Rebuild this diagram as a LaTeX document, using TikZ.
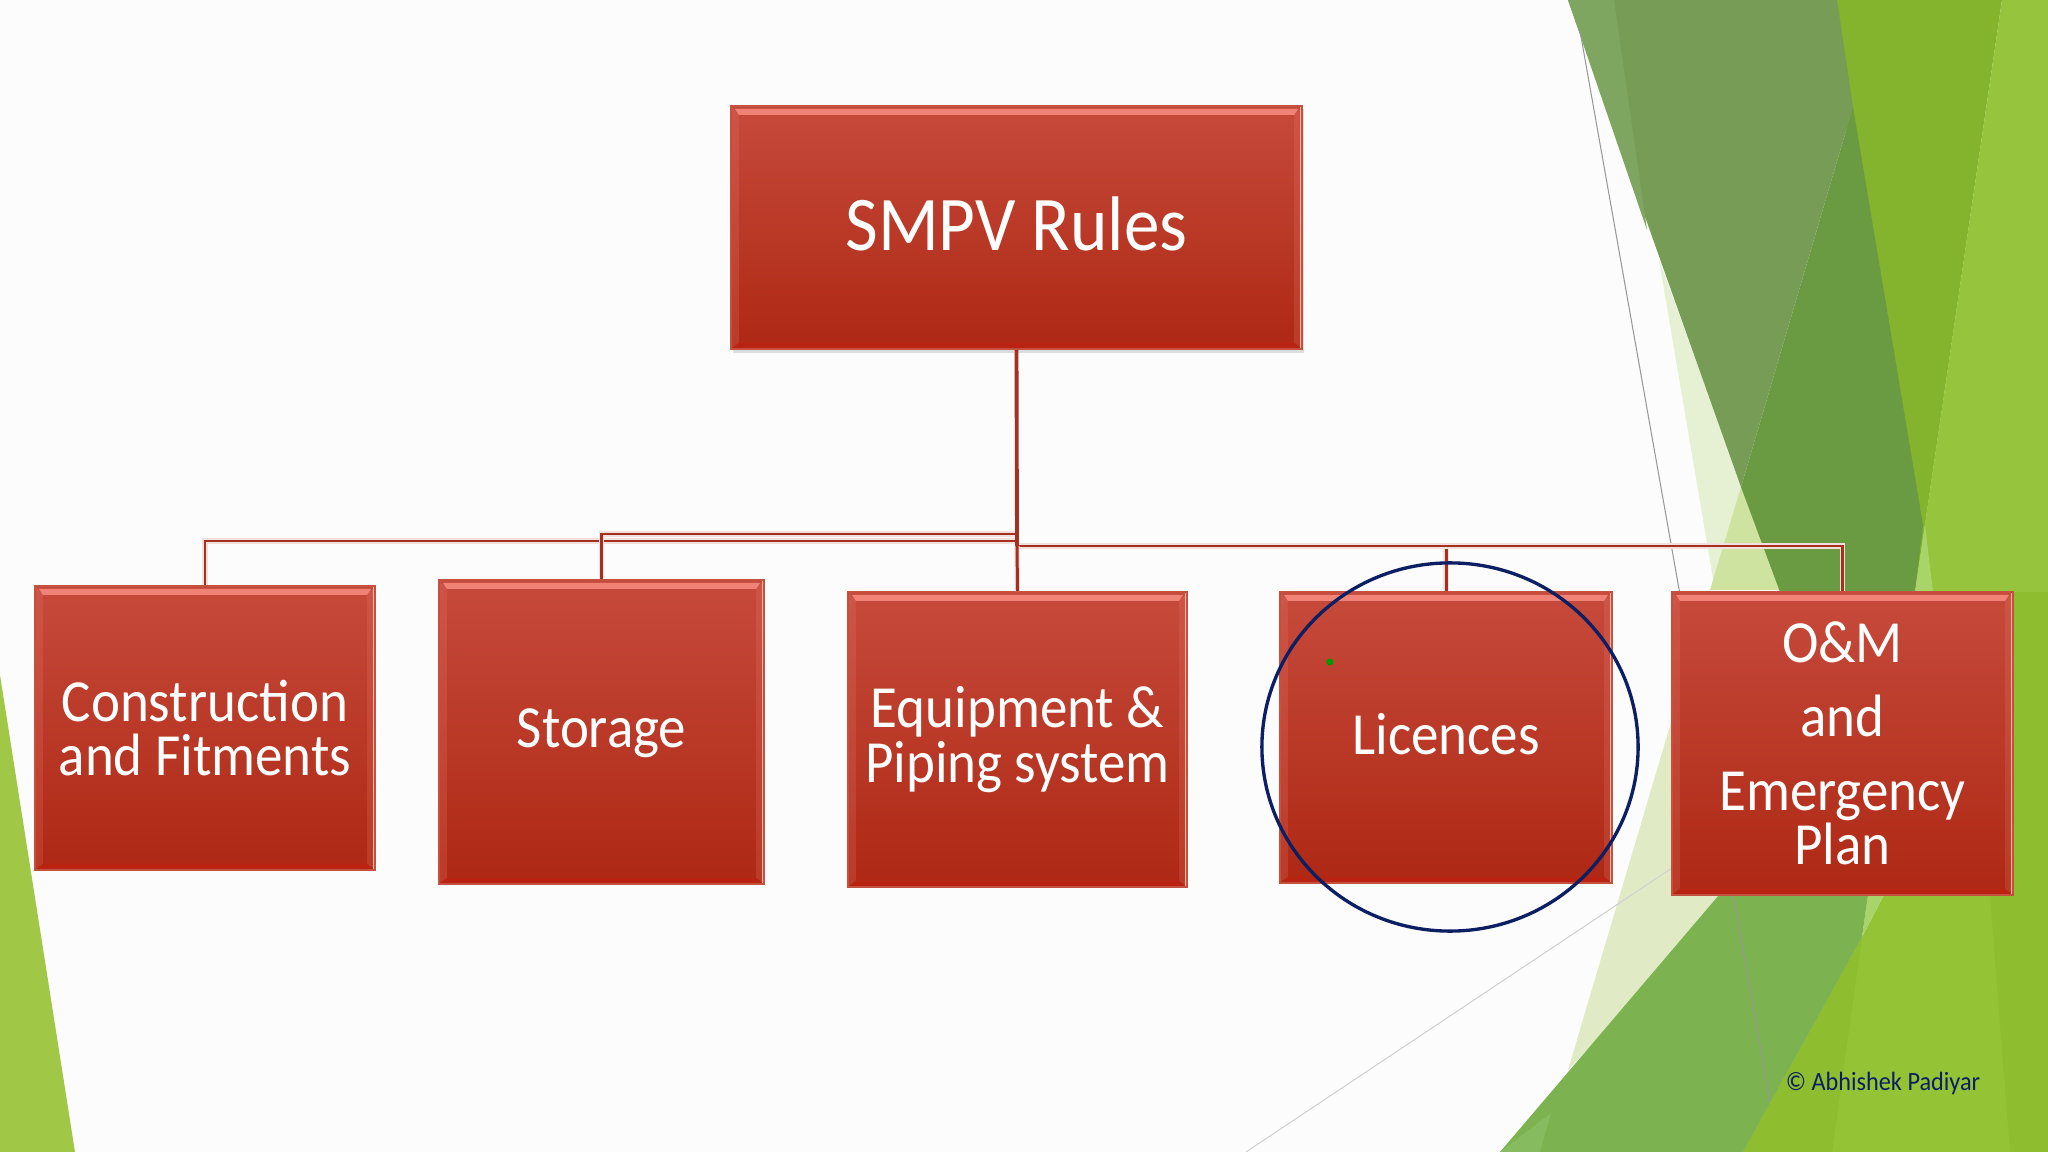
\documentclass[tikz,border=0pt]{standalone}
\usepackage{fontspec}
\setmainfont[FakeStretch=0.92]{Carlito}
\usetikzlibrary{shadows,shapes.geometric}

\definecolor{redtop}{HTML}{C64A3B}
\definecolor{redmid}{HTML}{B8321F}
\definecolor{redbot}{HTML}{AE2814}
\definecolor{bevtop}{HTML}{F08276}
\definecolor{bevrim}{HTML}{C4503F}
\definecolor{bevpale}{HTML}{F3B7A5}
\definecolor{linkred}{HTML}{A5301F}
\definecolor{navyring}{HTML}{0C1F63}
\definecolor{wedge}{HTML}{A0C846}
\definecolor{palea}{RGB}{230,240,210}
\definecolor{paleb}{RGB}{207,227,160}
\definecolor{palec}{RGB}{224,235,198}
\definecolor{paled}{RGB}{168,212,106}
\definecolor{greya}{RGB}{118,156,86}
\definecolor{greyb}{RGB}{127,166,96}
\definecolor{darkg}{RGB}{106,154,66}
\definecolor{oliveg}{RGB}{132,179,46}
\definecolor{brightg}{RGB}{150,196,60}
\definecolor{lowb}{RGB}{148,195,54}
\definecolor{lowg}{RGB}{143,189,48}
\definecolor{midg}{RGB}{124,178,79}
\definecolor{midh}{RGB}{134,187,96}

\def\ppb{path picture bounding box}
\tikzset{
	rulebox/.style={rectangle,draw=bevrim,line width=.5pt,text=white,align=center,inner sep=0pt,
		top color=redtop,middle color=redmid,bottom color=redbot,
		path picture={
			\fill[bevtop] ([shift={(4,3)}]\ppb.north west) -- ([shift={(-4,3)}]\ppb.north east) -- ([shift={(-8,9)}]\ppb.north east) -- ([shift={(8,9)}]\ppb.north west) -- cycle;
			\fill[bevtop,opacity=.2] (\ppb.north west) -- ([shift={(8,9)}]\ppb.north west) -- ([shift={(8,-6)}]\ppb.south west) -- (\ppb.south west) -- cycle;
			\fill[bevtop,opacity=.2] (\ppb.north east) -- ([shift={(-8,9)}]\ppb.north east) -- ([shift={(-8,-6)}]\ppb.south east) -- (\ppb.south east) -- cycle;
			\fill[redbot!85!red] (\ppb.south west) -- (\ppb.south east) -- ([shift={(-8,-6)}]\ppb.south east) -- ([shift={(8,-6)}]\ppb.south west) -- cycle;
			\draw[bevpale,line width=1.2pt] (\ppb.north east) -- (\ppb.south east);
		}},
	subbox/.style={rulebox,font=\fontsize{17}{15.4}\selectfont},
	link/.style={draw=linkred,line width=.85pt,preaction={draw=linkred!15!white,line width=1.5pt}},
}

\begin{document}
\begin{tikzpicture}[x=0.01cm,y=-0.01cm]
	\useasboundingbox (0,0) rectangle (2048,1152);
	\fill[white!99!black] (0,0) rectangle (2048,1152);

	% left wedge
	\fill[wedge] (0,675) -- (75,1152) -- (0,1152) -- cycle;

	% right wedges, top part
	\fill[palea] (1659,260) -- (1780,590) -- (1715,590) -- cycle;
	\fill[paleb] (1741,487) -- (1800,590) -- (1710,590) -- cycle;
	\fill[oliveg] (1830,0) -- (2002,0) -- (1925,525) -- (1915,592) -- (1900,592) -- cycle;
	\fill[darkg] (1853,107) -- (1923,525) -- (1915,592) -- (1780,592) -- (1741,487) -- cycle;
	\fill[greya] (1568,0) -- (1837,0) -- (1853,107) -- (1741,487) -- cycle;
	\fill[greyb] (1568,0) -- (1614,0) -- (1647,230) -- cycle;
	\fill[brightg] (2002,0) -- (2048,0) -- (2048,592) -- (1915,592) -- cycle;
	\fill[paled] (1925,525) -- (1933,592) -- (1915,592) -- cycle;

	% right wedges, lower part
	\fill[palec] (1672,719) -- (1568,1070) -- (1730,895) -- (1672,895) -- cycle;
	\fill[lowb] (1884,895) -- (2048,895) -- (2048,1152) -- (1743,1152) -- (1862,937) -- cycle;
	\fill[lowg] (1990,895) -- (2048,895) -- (2048,1152) -- (2010,1152) -- cycle;
	\fill[lowg] (2013,592) -- (2048,592) -- (2048,895) -- (2013,895) -- cycle;
	\fill[lowg] (1862,937) -- (1832,1152) -- (1743,1152) -- cycle;
	\fill[paled] (1868,895) -- (1884,895) -- (1862,937) -- cycle;
	\fill[midg] (1719,895) -- (1868,895) -- (1862,937) -- (1743,1152) -- (1500,1152) -- cycle;
	\fill[midh] (1500,1152) -- (1551,1113) -- (1540,1152) -- cycle;

	% thin lines
	\coordinate (pa) at (1580,31);
	\coordinate (pb) at (1770,1102);
	\coordinate (pc) at (1672,868);
	\coordinate (pd) at (1246,1152);
	\draw[black!40,line width=.3pt] (pa) -- (pb);
	\draw[black!18,line width=.3pt] (pc) -- (pd);

	\node[rulebox,minimum width=5.71cm,minimum height=2.43cm,text depth=2pt,font=\fontsize{22}{24}\selectfont,drop shadow={shadow xshift=.5pt,shadow yshift=-1pt,opacity=.25}] (rules) at (1016.5,227.5) {SMPV Rules};

	\node[subbox,minimum width=3.40cm,minimum height=2.84cm] (constr) at (205,728) {Construction\\and Fitments};
	\node[subbox,minimum width=3.25cm,minimum height=3.04cm,text depth=2pt] (stor) at (601.5,732) {Storage};
	\node[subbox,minimum width=3.39cm,minimum height=2.95cm] (equip) at (1017.5,739.5) {Equipment \&\\Piping system};
	\node[subbox,minimum width=3.32cm,minimum height=2.91cm,text depth=2pt] (lic) at (1446,737.5) {Licences};
	\node[subbox,minimum width=3.41cm,minimum height=3.03cm] (om) at (1842.5,743.5) {O\&M\\[5.7pt]and\\[5.7pt]Emergency\\Plan};

	\coordinate (busl) at (1017,541);
	\coordinate (buss) at (1017,534);
	\coordinate (busr) at (1017,546);

	\draw[link] (busl) -| (constr.north);
	\draw[link] (buss) -| (stor.north);
	\draw[link] (busr) -| (lic.north);
	\draw[link] (busr) -| (om.north);
	\draw[link] (busr) -- (equip.north);
	\draw[draw=linkred,line width=1.1pt] (rules.south) -- (busr);

	\node[draw=navyring,line width=.95pt,ellipse,minimum width=3.76cm,minimum height=3.68cm,inner sep=0pt] (ring) at (1450,747) {};
	\node[circle,fill=green!60!black,minimum size=2pt,inner sep=0pt] (dot) at (1330,662) {};

	\node[text=navyring,font=\fontsize{7.5}{9}\selectfont] (copy) at (1883,1083) {© Abhishek Padiyar};
\end{tikzpicture}
\end{document}
